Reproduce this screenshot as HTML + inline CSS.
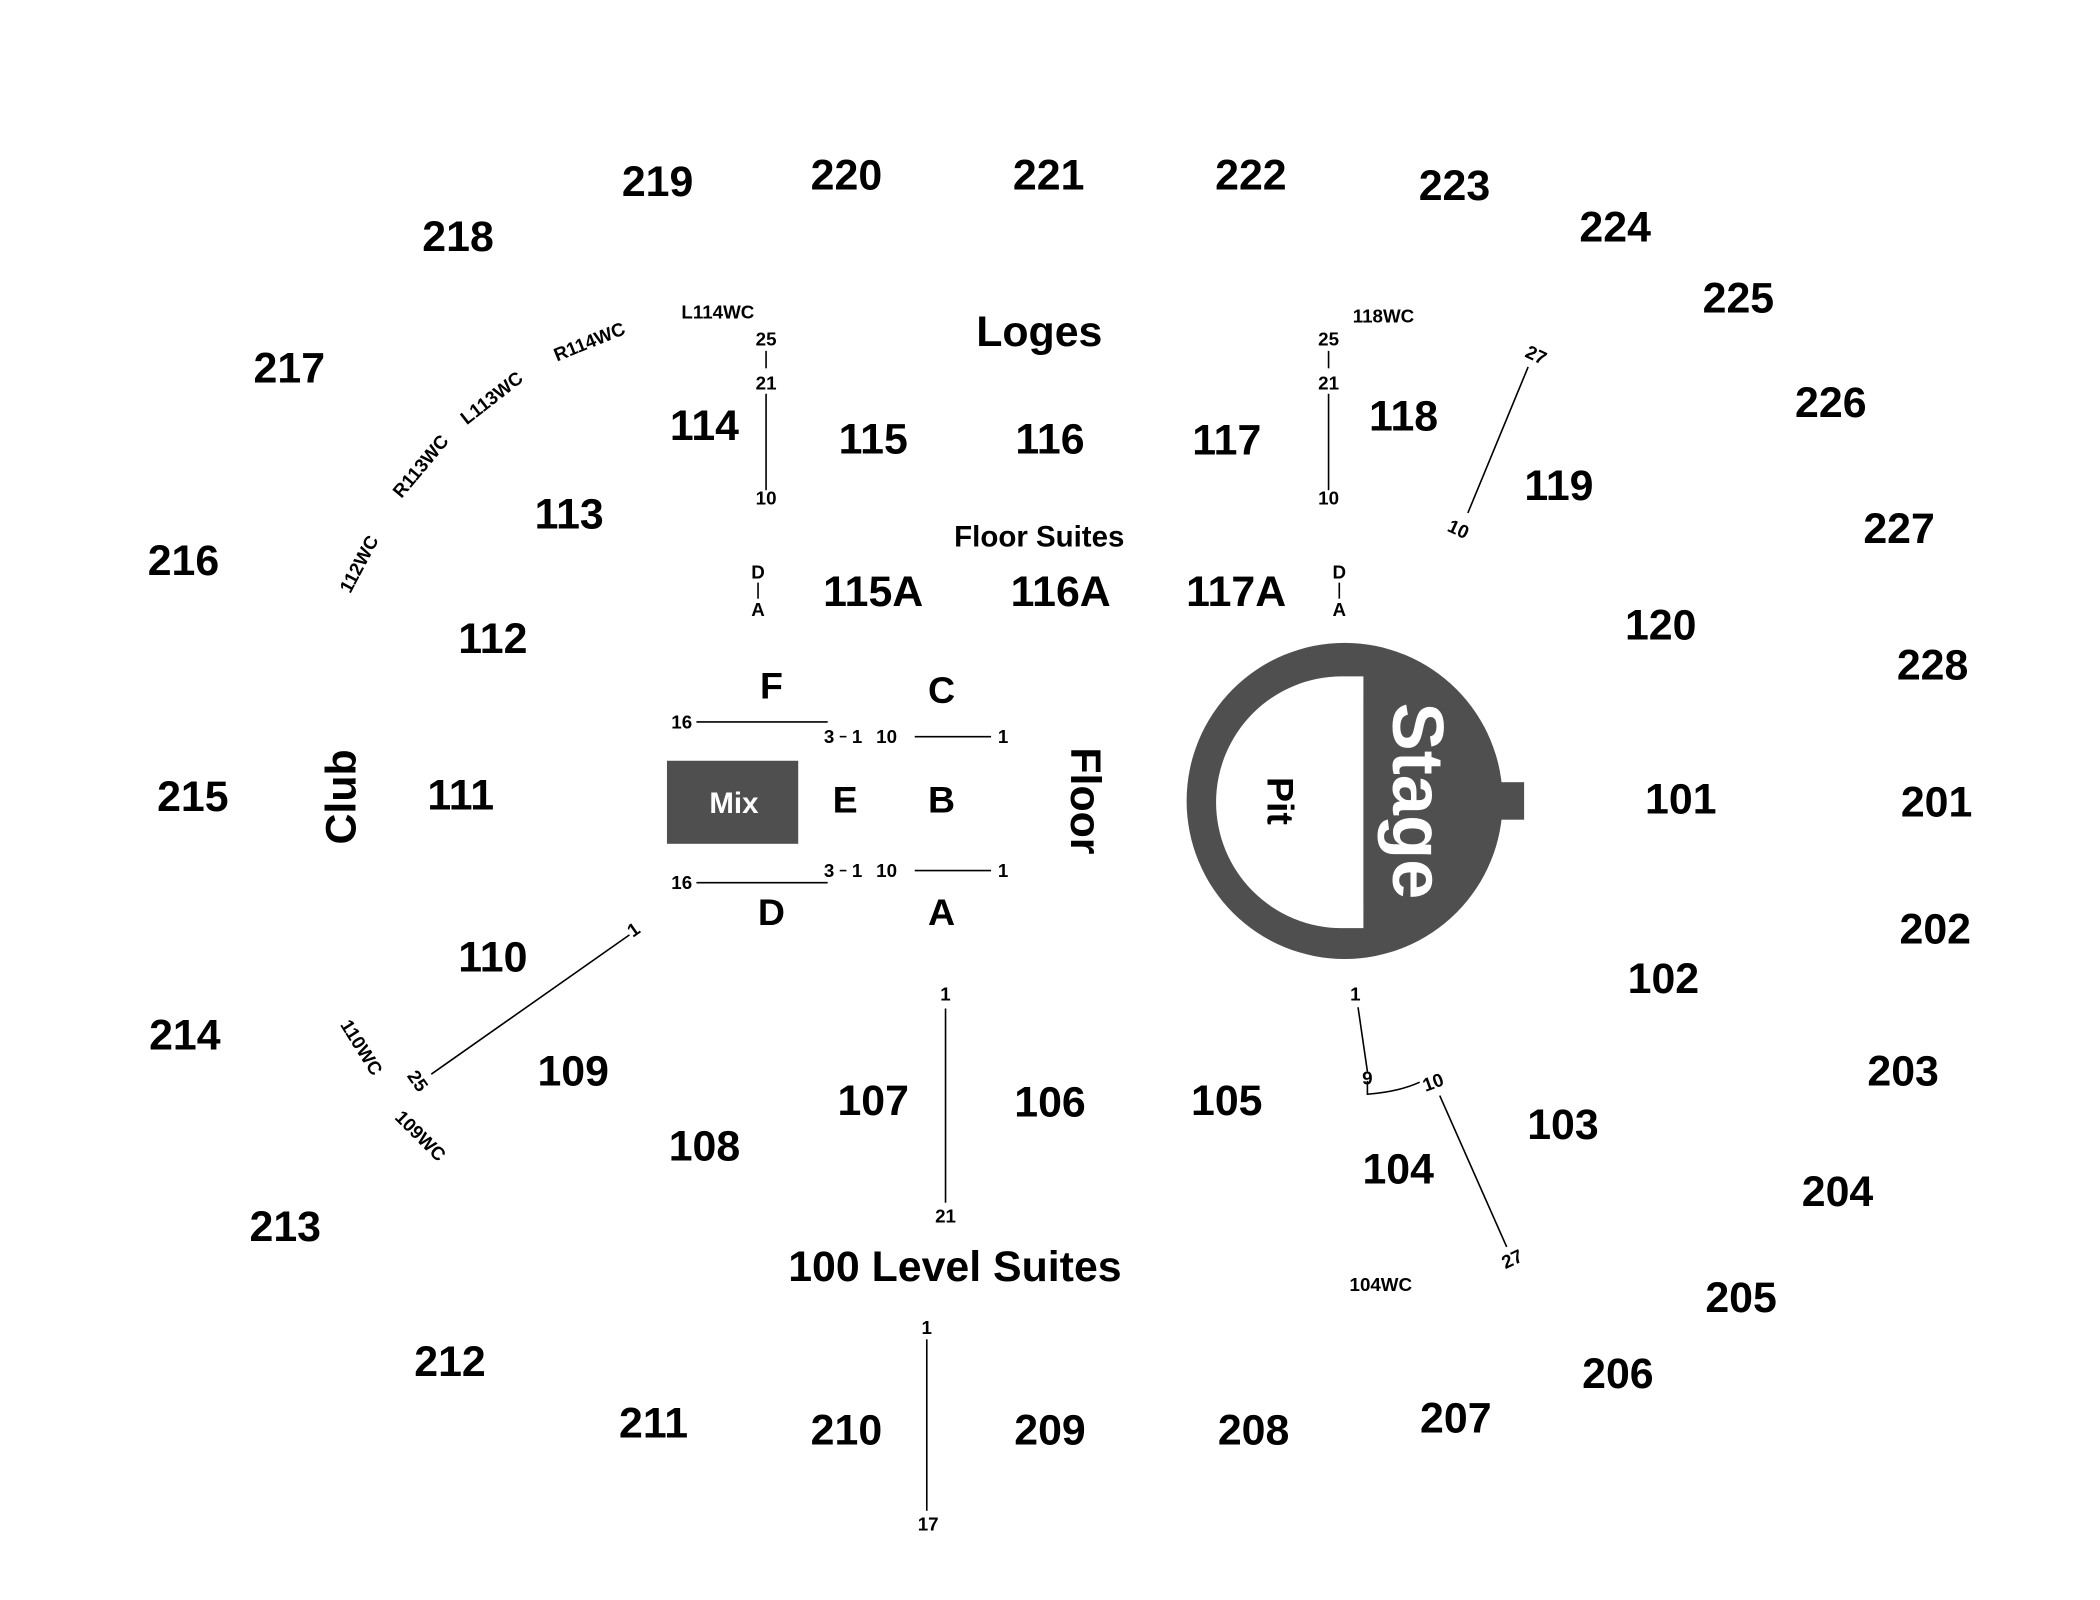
<!DOCTYPE html>
<html><head><meta charset="utf-8"><style>
html,body{margin:0;padding:0;background:#fff;}
svg{display:block;}
text{font-family:"Liberation Sans",Arial,sans-serif;font-weight:bold;fill:#000;}
.s{font-size:32px;}
.m{font-size:14px;}
</style></head><body>
<svg width="2100" height="1600" viewBox="0 0 1568 1194.6" preserveAspectRatio="none" xmlns="http://www.w3.org/2000/svg">
<g class="s" text-anchor="middle" dominant-baseline="central">
<text x="491" y="136">219</text><text x="632" y="131">220</text><text x="783" y="131">221</text><text x="934" y="131">222</text><text x="1086" y="139">223</text><text x="1206" y="170">224</text><text x="1298" y="223">225</text><text x="1367" y="301">226</text><text x="1418" y="395">227</text><text x="1443" y="497">228</text><text x="1446" y="599">201</text><text x="1445" y="694">202</text><text x="1421" y="800">203</text><text x="1372" y="890">204</text><text x="1300" y="969">205</text><text x="1208" y="1026">206</text><text x="1087" y="1059">207</text><text x="936" y="1068">208</text><text x="784" y="1068">209</text><text x="632" y="1068">210</text><text x="488" y="1063">211</text><text x="336" y="1017">212</text><text x="213" y="916">213</text><text x="138" y="773">214</text><text x="144" y="595">215</text><text x="137" y="419">216</text><text x="216" y="275">217</text><text x="342" y="177">218</text>
<text x="526" y="318">114</text><text x="652" y="328">115</text><text x="784" y="328">116</text><text x="916" y="329">117</text><text x="1048" y="311">118</text><text x="1164" y="363">119</text><text x="1240" y="467">120</text><text x="1255" y="597">101</text><text x="1242" y="731">102</text><text x="1167" y="840">103</text><text x="1044" y="873">104</text><text x="916" y="822">105</text><text x="784" y="823">106</text><text x="652" y="822">107</text><text x="526" y="856">108</text><text x="428" y="800">109</text><text x="368" y="715">110</text><text x="344" y="594">111</text><text x="368" y="477">112</text><text x="425" y="384">113</text>
<text x="652" y="442">115A</text><text x="792" y="442">116A</text><text x="923" y="442">117A</text>
<text x="776" y="248">Loges</text>
<text x="713" y="946">100 Level Suites</text>
<text x="576" y="512" style="font-size:28px">F</text><text x="703" y="515" style="font-size:28px">C</text>
<text x="631" y="597" style="font-size:28px">E</text><text x="703" y="597" style="font-size:28px">B</text>
<text x="576" y="681" style="font-size:28px">D</text><text x="703" y="681" style="font-size:28px">A</text>
<text x="776" y="401" style="font-size:22px">Floor Suites</text>
<text transform="translate(255,595) rotate(-90)" style="font-size:32px">Club</text>
<text transform="translate(810,598) rotate(90)" style="font-size:32px">Floor</text>
</g>
<circle cx="1004" cy="598" r="118" fill="#4f4f4f"/>
<rect x="1118" y="584" width="20" height="28" fill="#4f4f4f"/>
<path d="M1018 505 L1002 505 A94 94 0 0 0 1002 693 L1018 693 Z" fill="#fff"/>
<rect x="498" y="568" width="98" height="62" fill="#4f4f4f"/>
<g text-anchor="middle" dominant-baseline="central">
<text x="548" y="600" style="font-size:22px;fill:#fff">Mix</text>
<text transform="translate(1058,598) rotate(90)" style="font-size:54px;fill:#fff">Stage</text>
<text transform="translate(956,598) rotate(90)" style="font-size:28px">Pit</text>
</g>
<g stroke="#000" stroke-width="1.2" fill="none">
<line x1="572" y1="262" x2="572" y2="275"/><line x1="572" y1="294" x2="572" y2="366"/>
<line x1="992" y1="262" x2="992" y2="275"/><line x1="992" y1="294" x2="992" y2="366"/>
<line x1="566" y1="435" x2="566" y2="447"/><line x1="1000" y1="435" x2="1000" y2="447"/>
<line x1="520" y1="539" x2="618" y2="539"/><line x1="683" y1="550" x2="740" y2="550"/>
<line x1="520" y1="659" x2="618" y2="659"/><line x1="683" y1="650" x2="740" y2="650"/>
<line x1="627" y1="550" x2="632" y2="550"/><line x1="627" y1="650" x2="632" y2="650"/>
<line x1="470" y1="698" x2="322" y2="802"/>
<line x1="706" y1="753" x2="706" y2="898"/>
<line x1="692" y1="1000" x2="692" y2="1128"/>
<line x1="1014" y1="752" x2="1021" y2="800"/>
<path d="M1021 807 L1021 817 Q1045 815 1060 808"/>
<line x1="1075" y1="818" x2="1125" y2="931"/>
<line x1="1141" y1="274" x2="1096" y2="383"/>
</g>
<g class="m" text-anchor="middle" dominant-baseline="central">
<text x="572" y="253">25</text><text x="572" y="286">21</text><text x="572" y="372">10</text>
<text x="992" y="253">25</text><text x="992" y="286">21</text><text x="992" y="372">10</text>
<text x="566" y="427">D</text><text x="566" y="455">A</text>
<text x="1000" y="427">D</text><text x="1000" y="455">A</text>
<text x="509" y="539">16</text><text x="509" y="659">16</text>
<text x="623" y="550" text-anchor="end">3</text><text x="640" y="550">1</text><text x="662" y="550">10</text><text x="749" y="550">1</text>
<text x="623" y="650" text-anchor="end">3</text><text x="640" y="650">1</text><text x="662" y="650">10</text><text x="749" y="650">1</text>
<text x="706" y="742">1</text><text x="706" y="908">21</text>
<text x="692" y="991">1</text><text x="693" y="1138">17</text>
<text x="1012" y="742">1</text><text x="1021" y="805">9</text>
<text transform="translate(1070,808) rotate(-20)">10</text>
<text transform="translate(1129,940) rotate(-25)">27</text>
<text transform="translate(1147,265) rotate(25)">27</text>
<text transform="translate(1089,395) rotate(25)">10</text>
<text transform="translate(473,694) rotate(-35)">1</text>
<text transform="translate(312,807) rotate(55)">25</text>
<text x="536" y="233">L114WC</text>
<text x="1033" y="236">118WC</text>
<text x="1031" y="959">104WC</text>
<text transform="translate(440,255) rotate(-22)">R114WC</text>
<text transform="translate(367,297) rotate(-38)">L113WC</text>
<text transform="translate(314,348) rotate(-50)">R113WC</text>
<text transform="translate(268,421) rotate(-62)">112WC</text>
<text transform="translate(270,782) rotate(58)">110WC</text>
<text transform="translate(314,848) rotate(45)">109WC</text>
</g>
</svg>
</body></html>
